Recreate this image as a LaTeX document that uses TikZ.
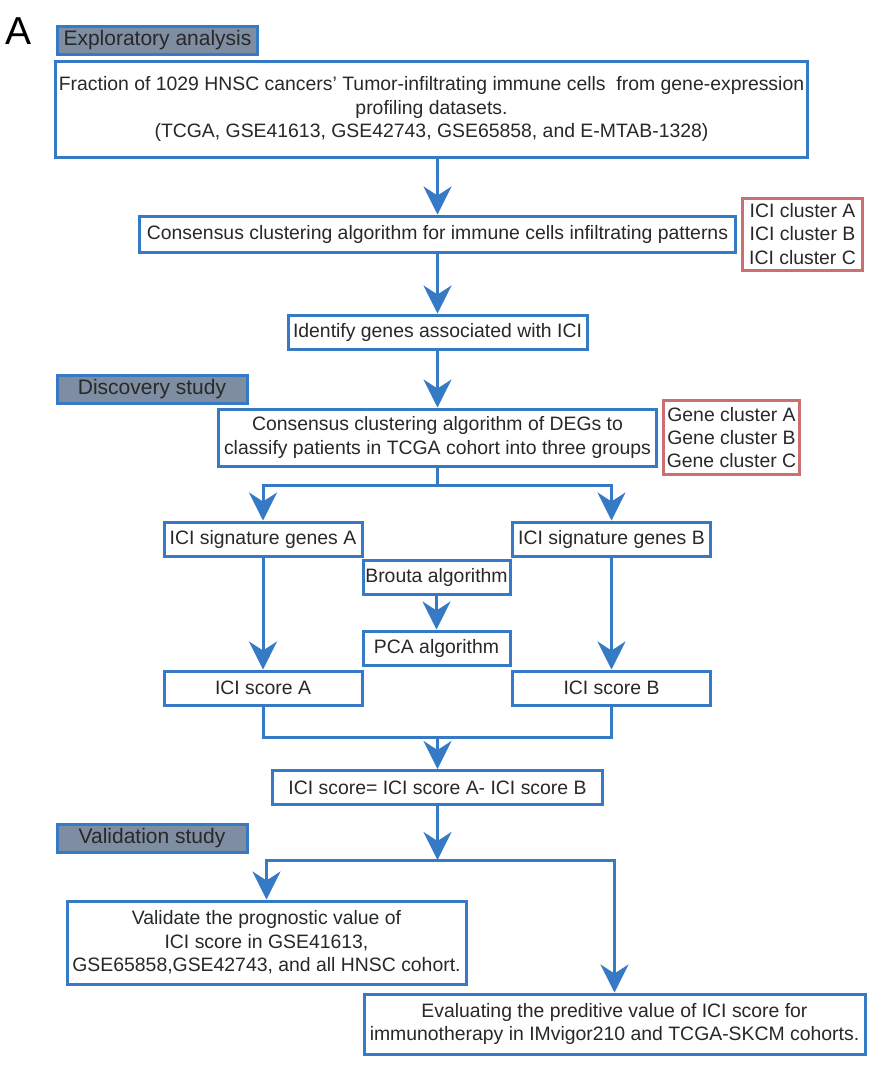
\documentclass[tikz,border=0pt]{standalone}
\usepackage{fontspec}
\setmainfont{Liberation Sans}
\usetikzlibrary{arrows.meta,positioning}
\definecolor{flowblue}{RGB}{54,121,196}
\definecolor{headgray}{RGB}{126,141,161}
\definecolor{clusterred}{RGB}{202,112,112}
\definecolor{txtgray}{RGB}{40,40,40}

\begin{document}
\begin{tikzpicture}[x=0.5pt,y=-0.5pt,>={Stealth[length=14pt,width=14pt,inset=4.5pt]},
                    line width=1.5pt,
                    every node/.style={text=txtgray,font=\fontsize{9.7}{11.7}\selectfont},
                    flow node/.style={draw=flowblue,fill=white,align=center,inner sep=0pt},
                    head node/.style={draw=flowblue,fill=headgray,inner sep=0pt,
                                      font=\fontsize{10.5}{12}\selectfont},
                    cluster node/.style={draw=clusterred,fill=white,align=center,inner sep=0pt}]
      \useasboundingbox (0,0) rectangle (894,1067);
      \node[font=\fontsize{19.5}{20}\selectfont,text=black] (A) at (19,31) {A};
      % exploratory analysis
      \node[head node, minimum width=100pt, minimum height=14pt] (h1) at (157.5,40) {Exploratory analysis};
      \node[flow node, minimum width=376pt, minimum height=48pt] (1) at (431.5,109)
        {Fraction of 1029 HNSC cancers' Tumor-infiltrating immune cells\ \ from gene-expression\\
         profiling datasets.\\ (TCGA, GSE41613, GSE42743, GSE65858, and E-MTAB-1328)};
      \node[flow node, minimum width=298pt, minimum height=18pt] (2) at (437.5,234)
        {Consensus clustering algorithm for immune cells infiltrating patterns};
      \node[cluster node, minimum width=60pt, minimum height=36pt] (c1) [right=2pt of 2]
        {ICI cluster A\\ ICI cluster B\\ ICI cluster C};
      \node[flow node, minimum width=149.5pt, minimum height=17pt] (3) at (437.5,332)
        {Identify genes associated with ICI};
      % discovery study
      \node[head node, minimum width=95pt, minimum height=14pt] (h2) at (152,389) {Discovery study};
      \node[flow node, minimum width=219pt, minimum height=28.5pt] (4) at (437.5,437.5)
        {Consensus clustering algorithm of DEGs to\\ classify patients in TCGA cohort into three groups};
      \node[cluster node, minimum width=68pt, minimum height=37pt] (c2) [right=2pt of 4]
        {Gene cluster A\\ Gene cluster B\\ Gene cluster C};
      \coordinate (j1) at (437.5,485);
      \node[flow node, minimum width=99pt, minimum height=17pt] (5) at (263,539) {ICI signature genes A};
      \node[flow node, minimum width=99pt, minimum height=17pt] (6) at (611.5,539) {ICI signature genes B};
      \node[flow node, minimum width=73.5pt, minimum height=17pt] (7) at (436.5,577) {Brouta algorithm};
      \node[flow node, minimum width=73.5pt, minimum height=17pt] (8) [below=17pt of 7] {PCA algorithm};
      \node[flow node, minimum width=99pt, minimum height=17pt] (9) at (263,688) {ICI score A};
      \node[flow node, minimum width=99pt, minimum height=17pt] (10) at (611.5,688) {ICI score B};
      \coordinate (j2) at (437.5,737);
      \node[flow node, minimum width=165pt, minimum height=17pt] (11) at (437.5,787.5)
        {ICI score= ICI score A- ICI score B};
      % validation study
      \node[head node, minimum width=95pt, minimum height=14pt] (h3) at (152,838) {Validation study};
      \coordinate (j3) at (437.5,860);
      \node[flow node, minimum width=199.5pt, minimum height=41.5pt] (12) at (266.5,942.5)
        {Validate the prognostic value of\\ ICI score in GSE41613,\\ GSE65858,GSE42743, and all HNSC cohort.};
      \node[flow node, minimum width=250.5pt, minimum height=30pt] (13) at (614.5,1024)
        {Evaluating the preditive value of ICI score for\\ immunotherapy in IMvigor210 and TCGA-SKCM cohorts.};
      \path[flowblue]
        (1.south -| 2.north) edge [->] (2)
        (2) edge [->] (3)
        (3) edge [->] (4)
        (4) edge (j1)
        (5) edge [->] (9)
        (6) edge [->] (10)
        (7) edge [->] (8)
        (j2) edge [->] (11)
        (11) edge [->] (j3);
      \draw[flowblue,->] (j1) -| (5);
      \draw[flowblue,->] (j1) -| (6);
      \draw[flowblue] (9) |- (j2) -| (10);
      \draw[flowblue,->] (j3) -| (12);
      \draw[flowblue,->] (j3) -| (13);
    \end{tikzpicture}
\end{document}
